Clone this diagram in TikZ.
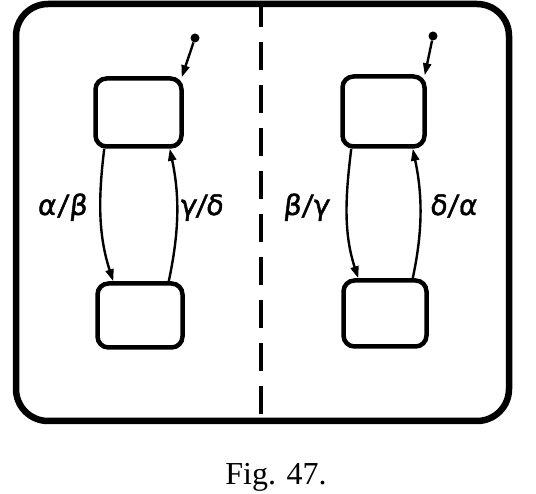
\documentclass[tikz,border=0pt]{standalone}
\usepackage{fontspec}
\setmainfont{Liberation Serif}
\newfontfamily\gkfont{DejaVu Sans}[FakeSlant=0.12,FakeBold=1.5]
\usetikzlibrary{arrows.meta}
\begin{document}
\begin{tikzpicture}[x=1pt,y=-1pt,
  statebox/.style={draw,line width=4.5pt,rounded corners=11pt,inner sep=0pt},
  trans/.style={line width=2.4pt,-{Triangle[length=12pt,width=8pt]}},
  initdot/.style={circle,fill,inner sep=0pt,minimum size=9pt},
  lbl/.style={font=\gkfont\fontsize{28}{30}\selectfont,anchor=base,inner sep=0pt}]
\useasboundingbox (0,0) rectangle (536,494);
% outer frame
\draw[line width=6.5pt,rounded corners=32pt] (16,4) rectangle (509,421);
\draw[line width=3.5pt,dash pattern=on 28pt off 15pt,dash phase=-38pt] (261,4) -- (261,421);
% left machine
\node[statebox,minimum width=86pt,minimum height=68pt] (lt) at (138.5,112.5) {};
\node[statebox,minimum width=85pt,minimum height=64pt] (lb) at (140,315.5) {};
\node[initdot] (li) at (195,38) {};
\draw[trans] (li) -- ([xshift=-2pt,yshift=-1pt]lt.north east);
\draw[trans] ([xshift=11pt]lt.south west) to[out=-97,in=108,looseness=0.95] ([xshift=18pt]lb.north west);
\draw[trans] ([xshift=-16pt]lb.north east) to[out=78,in=-78,looseness=0.95] ([xshift=-14pt]lt.south east);
\node[lbl] (l1) at (62,215) {α\kern2pt/\kern2ptβ};
\node[lbl] (l2) at (201,215) {γ/δ};
% right machine
\node[statebox,minimum width=82pt,minimum height=70pt] (rt) at (383.5,111.5) {};
\node[statebox,minimum width=83pt,minimum height=66pt] (rb) at (385,313.5) {};
\node[initdot] (ri) at (433,36) {};
\draw[trans] (ri) -- ([xshift=-2pt,yshift=-1pt]rt.north east);
\draw[trans] ([xshift=11pt]rt.south west) to[out=-97,in=108,looseness=0.95] ([xshift=17pt]rb.north west);
\draw[trans] ([xshift=-16pt]rb.north east) to[out=78,in=-78,looseness=0.95] ([xshift=-14pt]rt.south east);
\node[lbl] (r1) at (306,215) {β\kern1pt/\kern1ptγ};
\node[lbl] (r2) at (453,215) {δ\kern1pt/\kern1ptα};
% caption
\node[font=\fontsize{32}{36}\selectfont,anchor=base,inner sep=0pt] (cap) at (276,485) {Fig. 47.};
\end{tikzpicture}
\end{document}
